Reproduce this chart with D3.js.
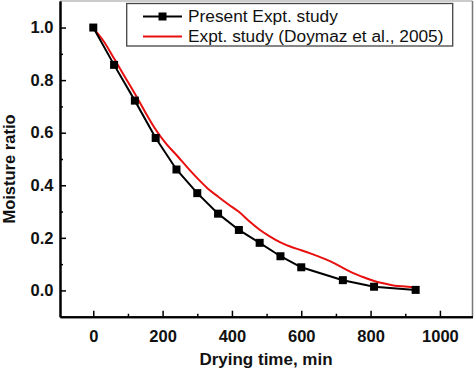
<!DOCTYPE html>
<html>
<head>
<meta charset="utf-8">
<script src="https://cdn.jsdelivr.net/npm/d3@7"></script>
<style>
  body { margin: 0; background: #fff; }
  svg { display: block; }
</style>
</head>
<body>
<div id="canvas"></div>
<script>
// chart data
var presentTime = [0, 60, 120, 180, 240, 300, 360, 420, 480, 540, 600, 720, 810, 930];
var presentRatio = [1.0, 0.858, 0.722, 0.58, 0.46, 0.37, 0.292, 0.23, 0.181, 0.13, 0.088, 0.039, 0.014, 0.002];

var doymazTime = [0, 30, 60, 90, 120, 150, 180, 210, 240, 270, 300, 330, 360, 390, 420, 450, 480, 510, 540, 570, 600, 630, 660, 690, 720, 750, 780, 810, 840, 870, 900, 930];
var doymazRatio = [0.997, 0.948, 0.882, 0.815, 0.748, 0.678, 0.612, 0.558, 0.515, 0.47, 0.427, 0.388, 0.357, 0.327, 0.299, 0.263, 0.231, 0.205, 0.183, 0.166, 0.153, 0.139, 0.124, 0.107, 0.086, 0.066, 0.05, 0.036, 0.026, 0.018, 0.015, 0.012];

var xTicks = [0, 200, 400, 600, 800, 1000];
var xMinorTicks = [100, 300, 500, 700, 900];
var yTicks = [0.0, 0.2, 0.4, 0.6, 0.8, 1.0];
var yMinorTicks = [0.1, 0.3, 0.5, 0.7, 0.9];
var legendNames = ["Present Expt. study", "Expt. study (Doymaz et al., 2005)"];

// dimensions of the plot area
var width = 474;
var height = 373;
var plotLeft = 60, plotRight = 472.5, plotTop = 1, plotBottom = 316.7;

var svg = d3.select("#canvas")
    .append("svg")
    .attr("width", width)
    .attr("height", height);

var x = d3.scaleLinear().domain([-96, 1094]).range([plotLeft, plotRight]);
var y = d3.scaleLinear().domain([-0.1, 1.101]).range([plotBottom, plotTop]);

// frame (top and right are the faint edges of the crop)
svg.append("line").attr("x1", plotLeft).attr("x2", plotRight).attr("y1", plotTop).attr("y2", plotTop)
    .attr("stroke", "#bbb").attr("stroke-width", 1.5);
svg.append("line").attr("x1", plotRight).attr("x2", plotRight).attr("y1", plotTop).attr("y2", plotBottom)
    .attr("stroke", "#777").attr("stroke-width", 1.5);

// axes with inward ticks
var xAxis = svg.append("g")
    .attr("transform", "translate(0," + plotBottom + ")")
    .call(d3.axisBottom(x).tickValues(xTicks).tickFormat(d3.format("d")).tickSizeInner(-6).tickSizeOuter(0).tickPadding(14));
var xMinor = svg.append("g")
    .attr("transform", "translate(0," + plotBottom + ")")
    .call(d3.axisBottom(x).tickValues(xMinorTicks).tickSizeInner(-3).tickSizeOuter(0).tickFormat(""));
var yAxis = svg.append("g")
    .attr("transform", "translate(" + plotLeft + ",0)")
    .call(d3.axisLeft(y).tickValues(yTicks).tickFormat(d3.format(".1f")).tickSizeInner(-6).tickSizeOuter(0).tickPadding(14));
var yMinor = svg.append("g")
    .attr("transform", "translate(" + plotLeft + ",0)")
    .call(d3.axisLeft(y).tickValues(yMinorTicks).tickSizeInner(-3).tickSizeOuter(0).tickFormat(""));

[xAxis, xMinor, yAxis, yMinor].forEach(function(g) {
    g.select(".domain").attr("stroke", "#000").attr("stroke-width", 2);
    g.selectAll(".tick line").attr("stroke", "#000").attr("stroke-width", 1.5);
    g.selectAll("text")
        .attr("font-family", "Liberation Sans, Arial, sans-serif")
        .attr("font-weight", "bold")
        .attr("font-size", 16.5)
        .attr("fill", "#111");
});
xAxis.selectAll("text").attr("dy", "0.71em");
yAxis.selectAll("text").attr("dx", "0.45em");

// axis titles
svg.append("text")
    .attr("x", 266).attr("y", 365)
    .attr("text-anchor", "middle")
    .attr("font-family", "Liberation Sans, Arial, sans-serif")
    .attr("font-weight", "bold")
    .attr("font-size", 17)
    .attr("fill", "#111")
    .text("Drying time, min");

svg.append("text")
    .attr("transform", "translate(15,169) rotate(-90)")
    .attr("text-anchor", "middle")
    .attr("font-family", "Liberation Sans, Arial, sans-serif")
    .attr("font-weight", "bold")
    .attr("font-size", 16.5)
    .attr("fill", "#111")
    .text("Moisture ratio");

var doymaz = doymazTime.map(function(t, i) { return [t, doymazRatio[i]]; });
var present = presentTime.map(function(t, i) { return [t, presentRatio[i]]; });

var line = d3.line()
    .x(function(d) { return x(d[0]); })
    .y(function(d) { return y(d[1]); });

// red series (Doymaz)
svg.append("path")
    .datum(doymaz)
    .attr("d", line.curve(d3.curveMonotoneX))
    .attr("fill", "none")
    .attr("stroke", "#e8100f")
    .attr("stroke-width", 2);

// black series with square markers
svg.append("path")
    .datum(present)
    .attr("d", line.curve(d3.curveLinear))
    .attr("fill", "none")
    .attr("stroke", "#000")
    .attr("stroke-width", 2);

var sq = 8;
svg.selectAll("rect.pt")
    .data(present)
    .enter()
    .append("rect")
    .attr("class", "pt")
    .attr("x", function(d) { return x(d[0]) - sq/2; })
    .attr("y", function(d) { return y(d[1]) - sq/2; })
    .attr("width", sq)
    .attr("height", sq)
    .attr("fill", "#000");

// legend
var legend = svg.append("g");
legend.append("rect")
    .attr("x", 126.7).attr("y", 3.5)
    .attr("width", 326).attr("height", 42.5)
    .attr("fill", "#fff")
    .attr("stroke", "#444")
    .attr("stroke-width", 1.3);

var legendY = [16.5, 36.5];
legend.append("line").attr("x1", 143).attr("x2", 182).attr("y1", legendY[0]).attr("y2", legendY[0])
    .attr("stroke", "#000").attr("stroke-width", 2);
legend.append("rect").attr("x", 162.5 - sq/2).attr("y", legendY[0] - sq/2)
    .attr("width", sq).attr("height", sq).attr("fill", "#000");
legend.append("line").attr("x1", 143).attr("x2", 182).attr("y1", legendY[1]).attr("y2", legendY[1])
    .attr("stroke", "#e8100f").attr("stroke-width", 2);

legend.selectAll("text.lg")
    .data(legendNames)
    .enter()
    .append("text")
    .attr("class", "lg")
    .attr("x", 188)
    .attr("y", function(d, i) { return legendY[i] + 5.5; })
    .attr("font-family", "Liberation Sans, Arial, sans-serif")
    .attr("font-size", 17.3)
    .attr("fill", "#111")
    .text(function(d) { return d; });
</script>
</body>
</html>
